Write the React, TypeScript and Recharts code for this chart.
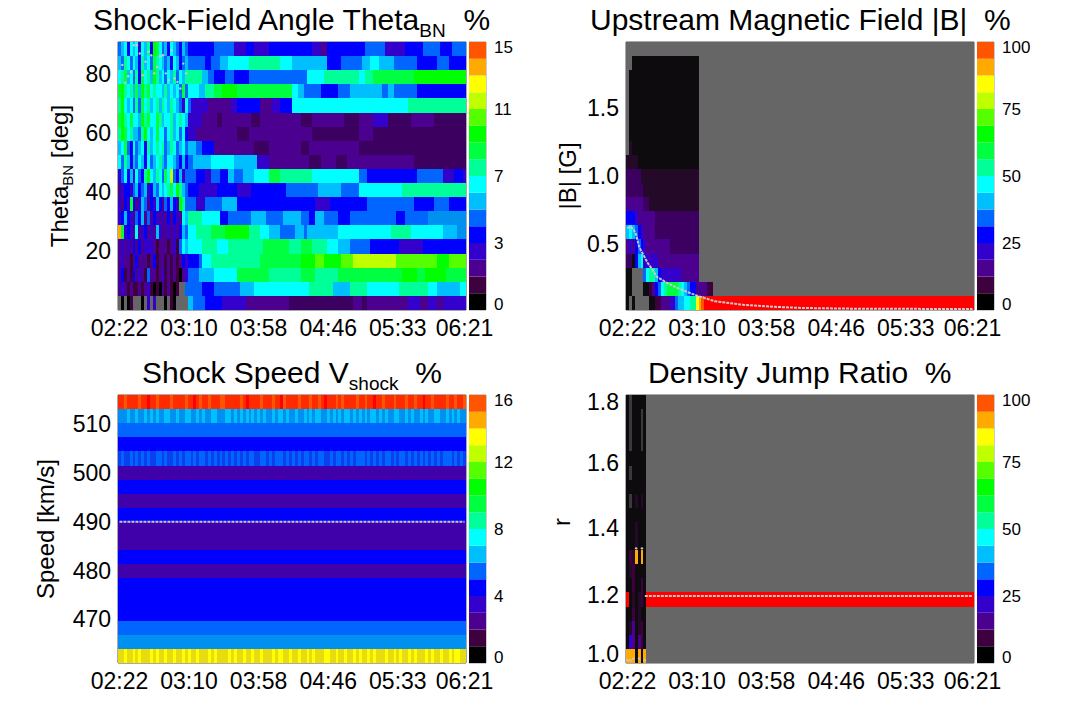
import { Bar, BarChart, Cell, ComposedChart, Line, ReferenceArea, XAxis, YAxis } from 'recharts'

const FONT = '"Liberation Sans", Arial, sans-serif'
const SLOTS = 120

// colour bar levels 0-f, then g = no data and the in-between tones that appear in the maps
const LEVELS = [
  '#000000', '#3f003f', '#4b0090', '#3300cc', '#0000ff', '#0066ff', '#00bfff', '#00ffff',
  '#00ff99', '#00ff40', '#00ff00', '#55ff00', '#bfff00', '#ffff00', '#ffaa00', '#ff5500',
  '#666666', // g
  '#ff0000', // h
  '#240a28', // i
  '#4000aa', // j
  '#0090f0', // k
  '#e8dc10', // l
  '#ff2a00', // m
  '#3a3a3a', // n
  '#3c0060', // o
  '#0e0b0e', // p
  '#0a40f0', // q
]

// time axis: one slot is about 2 minutes
const TIME_TICKS = [0, 24, 48, 72, 96, 119]
const TIME_LABELS = ['02:22', '03:10', '03:58', '04:46', '05:33', '06:21']

// Map rows run top to bottom. One char per slot, "c*n" is c repeated n times.
const thetaRows = [
  '5674 7673 7684 a975 6476 5465 4*9 5*7 3*4 4*3 3*5 4*15 3*3 2*2 4*13 5*7 3*7 4*6 5*6 4*4 5*9',
  '6587 5764 8675 9876 5647 6456 5*6 4*2 5*3 6*3 7*7 8*11 7*4 6*12 4*5 5*7 6*3 7*3 6*5 5*8 4*7 5*4 4*6',
  '7896 7584 9786 a867 5768 5768 8*5 6*2 5*2 4*4 5*3 4*5 5*20 7*6 8*12 7*2 8*3 9*14 a*20',
  '9a87 8696 a897 8776 8676 7595 7*4 6*2 8*3 9*3 a*5 9*19 7*2 6*2 5*6 4*6 5*4 6*11 5*2 6*2 5*8 4*20',
  '8a76 7585 9786 7868 7687 6537 5 3*4 3*2 2*8 3*2 4*8 2*4 3*3 4*4 7*40 8*30',
  '9a87 9776 a897 7986 7786 7876 3*5 2*5 o*2 2*10 o*3 2*14 o*4 2*11 o*5 2*5 3*5 o*8 2*8 o*20',
  '8a97 8665 8a76 7977 5786 7574 3*3 2*14 o*4 2*22 o*16 2*5 o*40',
  '6795 4756 7486 7878 5687 5675 6*3 5*2 4*4 2*14 o*5 2*11 o*3 2*17 o*40',
  '7586 4657 6475 6786 5776 5464 5*2 6*2 6*4 7*8 6*8 3*4 2*14 o*4 2*5 o*4 2*4 2*19 o*40',
  '3574 6375 48a7 6875 97c5 4635 5*3 4*3 3*2 5*3 4*3 6*2 5*3 6*4 7*5 9*4 8*6 8*5 7*6 7*10 5*3 4*17 5*9 3*4 4*3 3*10',
  '2344 3564 5634 6576 7897 a865 4*4 3*6 4*7 3*5 4*12 5*11 6*8 5*6 7*15 8*14 8*20',
  '3243 9423 6524 3642 5464 3a85 5*3 3*3 5*6 6*5 4*27 3*5 4*6 4*7 5*10 5*6 4*7 5*5 4*10',
  '3464 3254 6252 4323 2424 3276 8*5 7*6 4*3 5*8 6*5 5*6 6*6 5*3 4*2 6*3 5*5 4*4 5*16 4*3 5*8 k*15',
  'e934 3272 3423 2632 2323 2465 7*3 8*5 9*5 a*8 8*4 7*3 6*4 5*5 6*3 5 6*11 7*18 8*7 7*11 6*5 k*5',
  '2323 2424 2333 2122 2123 1576 7*5 8*5 7*4 8*12 9*9 8*4 9*4 8*5 7*4 6*4 5*7 4*10 3*8 4*20',
  '2322 1242 2212 4122 1212 1243 4*4 5 7*3 8*3 8*14 9*14 a*5 b*3 a*6 b*4 c*15 b*14 a*4 b*10',
  '2412 1423 2152 2123 1212 1023 5*4 6*5 7*8 9*11 8*11 9*5 8*8 9*5 9*17 a*5 9*3 a*7 9*10',
  '2321 2112 1231 0102 1210 1gg5 5*5 4*4 5*9 6*5 7*19 8*8 6*6 8*6 7*11 8*10 7*3 6*8 7*6',
  'g0g0 1ggg 0g3g 3ggg 0g10 gggg 6*2 5*2 5*2 4*6 3*6 3*2 2*15 o*22 2*3 o*2 2*4 2*10 3*4 2*3 3*3 2*2 3*14',
]

const fieldRows = [
  'g*120',
  'gg p*23 g*100',
  'g p*24 g*100',
  'g p*24 g*100',
  'g p*24 g*100',
  'g p*24 g*100',
  'g p*24 g*100',
  'g i p*23 g*100',
  'i i i i p*21 g*100',
  'o*5 i*20 g*100',
  'o*6 i*19 g*100',
  '2*6 o*2 i*17 g*100',
  '444 3 2 2 2 2 2 2 o*15 g*100',
  '6 7 6 5 4 3 2 2 2 2 o*15 g*100',
  '2 3 2 4 5 4 3 2*8 o*10 g*100',
  'o o p 4 6 7 3 3 3 3 3 2*14 g*100',
  'pp gggg 5 7 88 6 4 3333333 222222 g*100',
  'pp gggg pp1 2 4 5 7 8 9999 8 7 6 544 222211 g*100',
  'pgp g*5 p*2 1*2 2*3 3*2 5 6*2 7*2 8*2 d e f h*100',
]

const speedRows = [
  'mmfmmmmfmmhm mfmmmmfmmmmf mmhmfmmfmmmf fmmmmmfmhmmm mfmmmfmmhfmm mmfmmmfmmfmh mmmfmfmmmmfm mfmmhmmfmmmf mmmfmmfmmhmm fmmmmfmmfmmf',
  'kkk6kk6kk6k6 k6kk66kk6kk6 6kk6k6kk66kk k66k6k6k6k6k 6k6kk6k66k6k k6kk6k6k66kk 6k6k6k66k6k6 k6k66k6k6kk6 6kk6k6kk6k6k k66kk6k6k6kk',
  '5*120',
  '4*120',
  'q5qq5q5q5q5q q55q5qq5q5q5 5q5q55q5q5q5 q5q5q5q5q55q q55q5q555q5q 5q5q55q5q55q q5q55q5q5q55 5q5q5q5q55q5 q55q5q5q5q5q 5q5q555q5q5q',
  'j*120',
  '4*120',
  'j*120',
  '4*120',
  'j*120',
  'j*120',
  '4*120',
  'j*120',
  '4*120',
  '4*120',
  '4*120',
  '5*120',
  'k*120',
  'lldlldldllld ldlldlldlldl dlldllldldll lldldlldlldl ldllldlddlld lldlldldllld dlldlldlldld lldldllldlld ldlldldllldl dlldlldlddll',
]

const jumpRows = [
  'pnpp ppp g*113',
  'pnpp pnp g*113',
  'pnpp pnp g*113',
  'pnpp pnp g*113',
  'pppp ppp g*113',
  'pnpp ppp g*113',
  'pppp ppp g*113',
  'pnpi pip g*113',
  'pppp ppp g*113',
  'pppi ppp g*113',
  'pppi ppp g*113',
  'p1ie pep g*113',
  'pi1p ppp g*113',
  'pp1p p1p g*113',
  'hpip i1p h*113',
  'pp1p ipp g*113',
  'pi2p i1p g*113',
  'p32p 21p g*113',
  'eeep epe g*113',
]

// overlay traces, as slot + value
const thetaDotSlot = [1, 2, 3, 4, 5, 6, 7, 8, 9, 10, 11, 12, 13, 14, 15, 16, 17, 18, 19, 20, 21, 22, 23]
const thetaDotValue = [82.8, 76.8, 79, 80.5, 89.5, 89.5, 86.7, 79.4, 83.9, 87.3, 86.1, 80, 82.2, 85.8, 86.1, 80, 77.7, 87.8, 78.3, 77.1, 74.9, 83.3, 80]
const fieldSlot = [0, 1, 2, 3, 4, 6, 7, 9, 10, 14, 17, 21, 24, 30, 39, 49, 60, 77, 119]
const fieldValue = [0.615, 0.63, 0.61, 0.57, 0.48, 0.4, 0.36, 0.3, 0.26, 0.21, 0.18, 0.145, 0.12, 0.08, 0.055, 0.04, 0.03, 0.025, 0.022]
const speedSlot = [0, 119]
const speedValue = [490, 490]
const jumpSlot = [6, 119]
const jumpValue = [1.184, 1.184]
const jumpDotSlot = [0, 1, 2, 3, 4, 5, 6]
const jumpDotValue = [0.98, 0.98, 0.985, 1.335, 0.985, 1.335, 0.98]

const decode = (row: string) =>
  row
    .split(' ')
    .flatMap((tok) => (tok.includes('*') ? Array(Number(tok.split('*')[1])).fill(tok[0]) : [...tok]))
    .slice(0, SLOTS)
    .map((c) => parseInt(c, 27))

interface PanelProps {
  left: number
  top: number
  rows: string[]
  domain: [number, number]
  yTicks: number[]
  yFormat?: (v: number) => string
  title: React.ReactNode
  titleX: number
  yLabel: React.ReactNode
  yLabelX: number
  yLabelY: number
  barLabels: string[]
  trace?: [number[], number[]]
  dots?: [number[], number[]]
}

function BarTick({ x, y, payload, labels }: any) {
  const i = payload.value / 4
  const shift = i === 0 ? -6 : i === 4 ? 5 : 0
  return (
    <text x={x + 6} y={y + shift + 6} fontSize={17} fontFamily={FONT} fill="#000">
      {labels[i]}
    </text>
  )
}

function Panel({ left, top, rows, domain, yTicks, yFormat, title, titleX, yLabel, yLabelX, yLabelY, barLabels, trace, dots }: PanelProps) {
  const levels = rows.map(decode).reverse()
  const bin = (domain[1] - domain[0]) / rows.length
  const table = Array.from({ length: SLOTS }, (_, i) => {
    const row: Record<string, number> = { slot: i, base: domain[0] }
    levels.forEach((_, r) => (row[`r${r}`] = bin))
    if (trace && trace[0].includes(i)) row.trace = trace[1][trace[0].indexOf(i)]
    if (dots && dots[0].includes(i)) row.dots = dots[1][dots[0].indexOf(i)]
    return row
  })
  const barRow = [{ name: 0, ...Object.fromEntries(LEVELS.slice(0, 16).map((_, i) => [`c${i}`, 1])) }]

  return (
    <>
      <div style={{ position: 'absolute', left, top }}>
        <ComposedChart width={540} height={360} data={table} margin={{ top: 42, right: 74, bottom: 0, left: 0 }} barCategoryGap={0} barGap={0}>
          <XAxis
            dataKey="slot"
            ticks={TIME_TICKS}
            interval={0}
            tickFormatter={(v) => TIME_LABELS[TIME_TICKS.indexOf(v)]}
            tickLine={false}
            axisLine={false}
            tickSize={0}
            tickMargin={10}
            height={50}
            tick={{ fontSize: 23, fontFamily: FONT, fill: '#000' }}
          />
          <YAxis
            type="number"
            domain={domain}
            allowDataOverflow
            ticks={yTicks}
            interval={0}
            tickFormatter={yFormat}
            tickLine={false}
            axisLine={false}
            tickSize={0}
            tickMargin={7}
            width={118}
            tick={{ fontSize: 23, fontFamily: FONT, fill: '#000' }}
          />
          <Bar dataKey="base" stackId="a" fill="none" isAnimationActive={false} />
          {levels.map((row, r) => (
            <Bar key={r} dataKey={`r${r}`} stackId="a" isAnimationActive={false} shapeRendering="crispEdges">
              {row.map((level, i) => (
                <Cell key={i} fill={LEVELS[level]} />
              ))}
            </Bar>
          ))}
          {trace && (
            <Line dataKey="trace" connectNulls stroke="#c8c8c8" strokeWidth={2} strokeDasharray="3 1" dot={false} isAnimationActive={false} />
          )}
          {dots && (
            <Line dataKey="dots" stroke="none" dot={{ r: 1.2, fill: '#c8c8c8', stroke: 'none' }} isAnimationActive={false} />
          )}
          <ReferenceArea x1={0} x2={SLOTS - 1} y1={domain[0]} y2={domain[1]} fill="none" stroke="#555" strokeWidth={1} />
          <text x={titleX} y={30} fontSize={30} fontFamily={FONT} fill="#000" style={{ whiteSpace: 'pre' }}>
            {title}
          </text>
          <text
            x={yLabelX}
            y={yLabelY}
            fontSize={24}
            fontFamily={FONT}
            fill="#000"
            textAnchor="middle"
            transform={`rotate(-90 ${yLabelX} ${yLabelY})`}
          >
            {yLabel}
          </text>
        </ComposedChart>
      </div>
      <div style={{ position: 'absolute', left: left + 469, top }}>
        <BarChart width={60} height={360} data={barRow} margin={{ top: 42, right: 0, bottom: 50, left: 0 }} barCategoryGap={0}>
          <XAxis dataKey="name" hide />
          <YAxis
            orientation="right"
            type="number"
            domain={[0, 16]}
            ticks={[0, 4, 8, 12, 16]}
            interval={0}
            tickLine={false}
            axisLine={false}
            tickSize={0}
            width={43}
            tick={(p) => <BarTick {...p} labels={barLabels} />}
          />
          {LEVELS.slice(0, 16).map((color, i) => (
            <Bar key={color} dataKey={`c${i}`} stackId="c" fill={color} isAnimationActive={false} />
          ))}
          <ReferenceArea x1={0} x2={0} y1={0} y2={16} fill="none" stroke="#999" strokeWidth={1} />
        </BarChart>
      </div>
    </>
  )
}

const Sub = ({ text, size, dx }: { text: string; size: number; dx: number }) => (
  <>
    <tspan fontSize={size} dy={size * 0.35}>
      {text}
    </tspan>
    <tspan dy={-size * 0.35} dx={dx}>
      {' '}
    </tspan>
  </>
)

export default function App() {
  return (
    <div style={{ position: 'absolute', left: 0, top: 0, width: 1080, height: 720, background: '#fff', overflow: 'hidden' }}>
      <Panel
        left={0}
        top={0}
        rows={thetaRows}
        domain={[0, 90.6]}
        yTicks={[20, 40, 60, 80]}
        title={
          <>
            Shock-Field Angle Theta
            <Sub text="BN" size={19} dx={1} />
            {' %'}
          </>
        }
        titleX={93}
        yLabel={
          <>
            Theta
            <Sub text="BN" size={15} dx={0} />
            {'[deg]'}
          </>
        }
        yLabelX={68}
        yLabelY={176}
        barLabels={['0', '3', '7', '11', '15']}
        dots={[thetaDotSlot, thetaDotValue]}
      />
      <Panel
        left={508}
        top={0}
        rows={fieldRows}
        domain={[0.015, 1.985]}
        yTicks={[0.5, 1, 1.5]}
        yFormat={(v) => v.toFixed(1)}
        title="Upstream Magnetic Field |B|  %"
        titleX={82}
        yLabel="|B| [G]"
        yLabelX={68}
        yLabelY={176}
        barLabels={['0', '25', '50', '75', '100']}
        trace={[fieldSlot, fieldValue]}
      />
      <Panel
        left={0}
        top={353}
        rows={speedRows}
        domain={[461, 516]}
        yTicks={[470, 480, 490, 500, 510]}
        title={
          <>
            Shock Speed V
            <Sub text="shock" size={19} dx={0} />
            {' %'}
          </>
        }
        titleX={142}
        yLabel="Speed [km/s]"
        yLabelX={54}
        yLabelY={176}
        barLabels={['0', '4', '8', '12', '16']}
        trace={[speedSlot, speedValue]}
      />
      <Panel
        left={508}
        top={353}
        rows={jumpRows}
        domain={[0.971, 1.822]}
        yTicks={[1, 1.187, 1.4, 1.606, 1.8]}
        yFormat={(v) => v.toFixed(1)}
        title="Density Jump Ratio  %"
        titleX={140}
        yLabel="r"
        yLabelX={62}
        yLabelY={169}
        barLabels={['0', '25', '50', '75', '100']}
        trace={[jumpSlot, jumpValue]}
        dots={[jumpDotSlot, jumpDotValue]}
      />
    </div>
  )
}
